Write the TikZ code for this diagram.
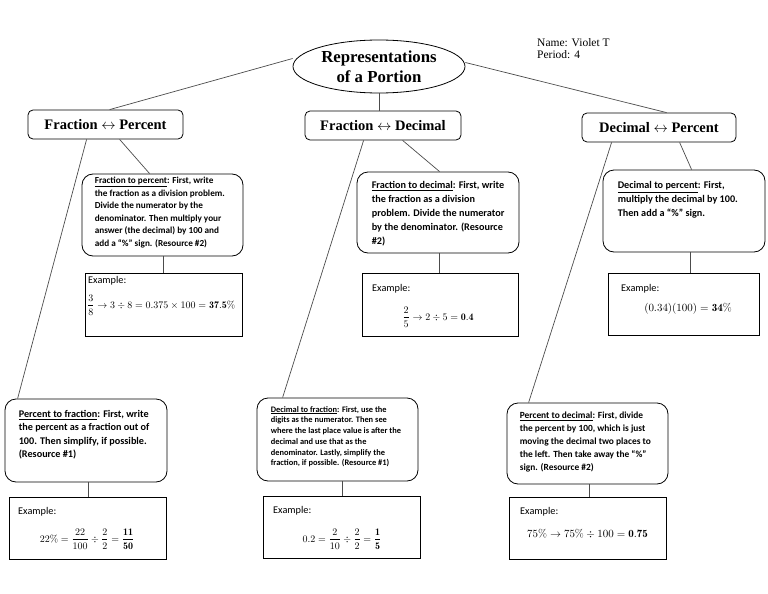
\documentclass[tikz,border=0pt]{standalone}
\usepackage{fontspec}
\usetikzlibrary{shapes.geometric}
\newfontfamily\bodyfont{Carlito}
\newfontfamily\titlefont{Liberation Serif}
\begin{document}
\begin{tikzpicture}[x=1pt,y=-1pt,
  conn/.style={draw=black!70,line width=0.7pt},
  titlebox/.style={draw=black,line width=0.8pt,rounded corners=5pt,inner sep=0pt,
     font=\titlefont\bfseries\fontsize{14.5}{16}\selectfont},
  descbox/.style={draw=black,line width=0.8pt,rounded corners=11pt,inner sep=0pt},
  exbox/.style={draw=black,line width=0.9pt,inner sep=0pt},
  desctext/.style={anchor=north west,inner sep=0pt,align=left},
  exlabel/.style={anchor=west,inner sep=0pt,font=\bodyfont\fontsize{10.3}{12}\selectfont},
  exmath/.style={inner sep=0pt,font=\fontsize{10}{12}\selectfont}]
\useasboundingbox (0,0) rectangle (768,594);
\fill[white] (0,0) rectangle (768,594);

% root
\node[draw=black,line width=0.8pt,ellipse,minimum width=172pt,minimum height=53pt,inner sep=0pt,
  align=center,font=\titlefont\bfseries\fontsize{16.8}{20}\selectfont] (root) at (379,66.5)
  {Representations\\of a Portion};
\node[anchor=west,inner sep=0pt,align=left,font=\titlefont\fontsize{11.5}{12}\selectfont] (name) at (537,48.5)
  {Name: Violet T\\Period: 4};

% title boxes
\node[titlebox,minimum width=155pt,minimum height=29pt] (fp) at (105.5,124.5) {Fraction \(\leftrightarrow\) Percent};
\node[titlebox,minimum width=156pt,minimum height=29pt] (fd) at (383,125.5) {Fraction \(\leftrightarrow\) Decimal};
\node[titlebox,minimum width=154pt,minimum height=29pt] (dp) at (659,127.5) {Decimal \(\leftrightarrow\) Percent};

% description boxes
\node[descbox,minimum width=161pt,minimum height=82pt] (fpd) at (162.5,215) {};
\node[descbox,minimum width=162pt,minimum height=81pt] (fdd) at (438,212.5) {};
\node[descbox,minimum width=162pt,minimum height=82pt] (dpd) at (684,211) {};
\node[descbox,minimum width=162pt,minimum height=83pt] (pfd) at (86,440.5) {};
\node[descbox,minimum width=161pt,minimum height=83pt] (dfd) at (337.5,439.5) {};
\node[descbox,minimum width=161pt,minimum height=81pt] (pdd) at (587.5,443.5) {};

\node[desctext,font=\bodyfont\bfseries\fontsize{9.2}{12.5}\selectfont] (fpdt) at ([xshift=13pt,yshift=-3.5pt]fpd.north west)
  {\underline{Fraction to percent}: First, write\\the fraction as a division problem.\\Divide the numerator by the\\denominator. Then multiply your\\answer (the decimal) by 100 and\\add a “\%” sign. (Resource \#2)};
\node[desctext,font=\bodyfont\bfseries\fontsize{10.2}{13.8}\selectfont] (fddt) at ([xshift=15pt,yshift=-10pt]fdd.north west)
  {\underline{Fraction to decimal}: First, write\\the fraction as a division\\problem. Divide the numerator\\by the denominator. (Resource\\\#2)};
\node[desctext,font=\bodyfont\bfseries\fontsize{10.2}{14}\selectfont] (dpdt) at ([xshift=15pt,yshift=-12pt]dpd.north west)
  {\underline{Decimal to percent}: First,\\multiply the decimal by 100.\\Then add a “\%” sign.};
\node[desctext,font=\bodyfont\bfseries\fontsize{10.2}{13.5}\selectfont] (pfdt) at ([xshift=14pt,yshift=-11.5pt]pfd.north west)
  {\underline{Percent to fraction}: First, write\\the percent as a fraction out of\\100. Then simplify, if possible.\\(Resource \#1)};
\node[desctext,font=\bodyfont\bfseries\fontsize{8.4}{10.7}\selectfont] (dfdt) at ([xshift=14pt,yshift=-8.5pt]dfd.north west)
  {\underline{Decimal to fraction}: First, use the\\digits as the numerator. Then see\\where the last place value is after the\\decimal and use that as the\\denominator. Lastly, simplify the\\fraction, if possible. (Resource \#1)};
\node[desctext,font=\bodyfont\bfseries\fontsize{9.4}{13}\selectfont] (pddt) at ([xshift=13pt,yshift=-9pt]pdd.north west)
  {\underline{Percent to decimal}: First, divide\\the percent by 100, which is just\\moving the decimal two places to\\the left. Then take away the “\%”\\sign. (Resource \#2)};

% example boxes
\node[exbox,minimum width=157pt,minimum height=63pt] (ex1) at (163.5,304.5) {};
\node[exbox,minimum width=156pt,minimum height=63pt] (ex2) at (440,304.5) {};
\node[exbox,minimum width=151pt,minimum height=62pt] (ex3) at (683.5,304) {};
\node[exbox,minimum width=157pt,minimum height=62pt] (ex4) at (87.5,528) {};
\node[exbox,minimum width=157pt,minimum height=62pt] (ex5) at (341.5,527) {};
\node[exbox,minimum width=157pt,minimum height=62pt] (ex6) at (587.5,528) {};

\node[exlabel] (ex1l) at (88,281) {Example:};
\node[exlabel] (ex2l) at (372,289) {Example:};
\node[exlabel] (ex3l) at (621,289) {Example:};
\node[exlabel] (ex4l) at (18,512) {Example:};
\node[exlabel] (ex5l) at (273,511) {Example:};
\node[exlabel] (ex6l) at (520,512) {Example:};

\node[exmath,anchor=west] (ex1m) at (87,305) {$\displaystyle\frac{3}{8}\rightarrow 3\div 8=0.375\times 100=\mathbf{37.5\%}$};
\node[exmath] (ex2m) at (438,317) {$\displaystyle\frac{2}{5}\rightarrow 2\div 5=\mathbf{0.4}$};
\node[exmath,font=\fontsize{11}{13}\selectfont] (ex3m) at (688,309) {$(0.34)(100)=\mathbf{34\%}$};
\node[exmath] (ex4m) at (87,539) {$\displaystyle 22\%=\frac{22}{100}\div\frac{2}{2}=\mathbf{\frac{11}{50}}$};
\node[exmath] (ex5m) at (342,539) {$\displaystyle 0.2=\frac{2}{10}\div\frac{2}{2}=\mathbf{\frac{1}{5}}$};
\node[exmath,font=\fontsize{11}{13}\selectfont] (ex6m) at (587.5,534) {$75\%\rightarrow 75\%\div 100=\mathbf{0.75}$};

% connectors
\draw[conn] ([yshift=8pt]root.west) -- ([xshift=82pt]fp.north west);
\draw[conn] (root.south) -- (root.south |- fd.north);
\draw[conn] ([yshift=4pt]root.east) -- ([xshift=85pt]dp.north west);

\draw[conn] ([xshift=92pt]fp.south west) -- ([xshift=68pt]fpd.north west);
\draw[conn] ([xshift=59pt]fp.south west) -- ([xshift=13pt]pfd.north west);
\draw[conn] (fpd.south -| ex1.north) -- (ex1.north);

\draw[conn] ([xshift=98pt]fd.south west) -- ([xshift=83pt]fdd.north west);
\draw[conn] ([xshift=59pt]fd.south west) -- ([xshift=26pt]dfd.north west);
\draw[conn] ([xshift=1pt]fdd.south) -- ([xshift=-1pt]ex2.north);

\draw[conn] ([xshift=98pt]dp.south west) -- ([xshift=89pt]dpd.north west);
\draw[conn] ([xshift=30pt]dp.south west) -- ([xshift=22pt]pdd.north west);
\draw[conn] ([xshift=6pt]dpd.south) -- ([xshift=6.5pt]ex3.north);

\draw[conn] ([xshift=2pt]pfd.south) -- ([xshift=0.5pt]ex4.north);
\draw[conn] ([xshift=4.5pt]dfd.south) -- ([xshift=0.5pt]ex5.north);
\draw[conn] ([xshift=1.5pt]pdd.south) -- ([xshift=1.5pt]ex6.north);
\end{tikzpicture}
\end{document}
